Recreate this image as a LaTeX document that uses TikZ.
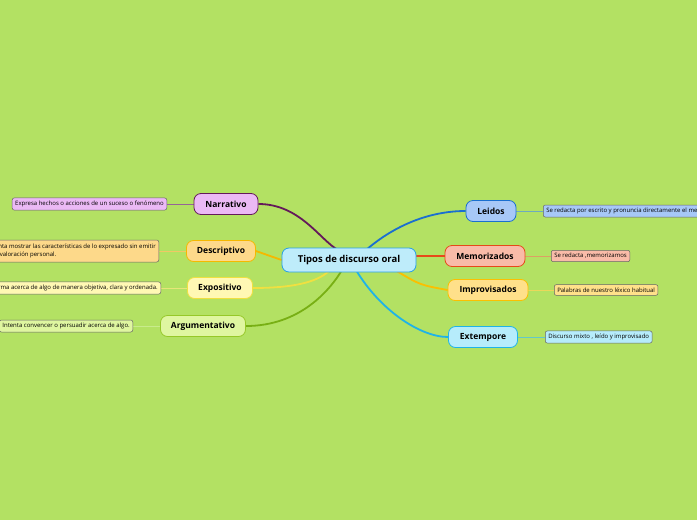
\documentclass[tikz,border=0pt]{standalone}
\usepackage{fontspec}
\setmainfont{Open Sans}
\usetikzlibrary{backgrounds}
\begin{document}
\begin{tikzpicture}[x=1pt,y=-1pt,
  main/.style={rounded corners=7pt,draw,line width=0.8pt,minimum height=21pt,inner xsep=8pt,font=\fontsize{8.5}{10}\selectfont\bfseries},
  leaf/.style={rounded corners=2pt,draw=black!60,line width=0.5pt,inner xsep=3pt,inner ysep=3pt,font=\fontsize{6}{7.5}\selectfont,align=left},
  br/.style={line width=1.8pt},
  tw/.style={line width=0.8pt}]
\useasboundingbox (0,0) rectangle (697,520);
\clip (0,0) rectangle (697,520);
\definecolor{purp}{RGB}{100,25,90}
% center
\node[main,fill={rgb,255:red,190;green,236;blue,250},draw={rgb,255:red,40;green,160;blue,230},minimum width=134pt,minimum height=24pt,font=\fontsize{9.5}{11}\selectfont\bfseries] (c) at (349,260) {Tipos de discurso oral};
% left branches
\node[main,fill={rgb,255:red,235;green,185;blue,245},draw=purp,minimum width=64pt] (n) at (226,204) {Narrativo};
\node[main,fill={rgb,255:red,253;green,217;blue,138},draw={rgb,255:red,245;green,184;blue,0},minimum width=69pt] (d) at (221,251) {Descriptivo};
\node[main,fill={rgb,255:red,255;green,248;blue,180},draw={rgb,255:red,240;green,224;blue,64},minimum width=65pt] (e) at (220,288) {Expositivo};
\node[main,fill={rgb,255:red,223;green,246;blue,160},draw={rgb,255:red,150;green,200;blue,40},minimum width=85pt] (a) at (203,326) {Argumentativo};
% right branches
\node[main,fill={rgb,255:red,167;green,200;blue,247},draw={rgb,255:red,26;green,111;blue,208},minimum width=50pt] (l) at (491,211) {Leidos};
\node[main,fill={rgb,255:red,249;green,187;blue,168},draw={rgb,255:red,230;green,74;blue,25},minimum width=80pt] (m) at (485,256) {Memorizados};
\node[main,fill={rgb,255:red,255;green,224;blue,138},draw={rgb,255:red,251;green,191;blue,0},minimum width=80pt] (i) at (488,290) {Improvisados};
\node[main,fill={rgb,255:red,182;green,236;blue,251},draw={rgb,255:red,31;green,179;blue,232},minimum width=69pt] (x) at (483,337) {Extempore};
% leaves
\node[leaf,fill={rgb,255:red,235;green,185;blue,245},anchor=east] (ln) at (167,204) {Expresa hechos o acciones de un suceso o fenómeno};
\node[leaf,fill={rgb,255:red,253;green,217;blue,138},anchor=east,minimum height=22pt] (ld) at (159,251) {Intenta mostrar las características de lo expresado sin emitir\\ una valoración personal.};
\node[leaf,fill={rgb,255:red,255;green,248;blue,180},anchor=east] (le) at (161,288) {Informa acerca de algo de manera objetiva, clara y ordenada.};
\node[leaf,fill={rgb,255:red,223;green,246;blue,160},anchor=east] (la) at (133,326) {Intenta convencer o persuadir acerca de algo.};
\node[leaf,fill={rgb,255:red,167;green,200;blue,247},anchor=west] (ll) at (543,211) {Se redacta por escrito y pronuncia directamente el mensaje};
\node[leaf,fill={rgb,255:red,249;green,187;blue,168},anchor=west] (lm) at (551,256) {Se redacta ,memorizamos};
\node[leaf,fill={rgb,255:red,255;green,224;blue,138},anchor=west] (li) at (554,290) {Palabras de nuestro léxico habitual};
\node[leaf,fill={rgb,255:red,182;green,236;blue,251},anchor=west] (lx) at (545,337) {Discurso mixto , leído y improvisado};
\begin{scope}[on background layer]
\fill[fill={rgb,255:red,179;green,225;blue,99}] (0,0) rectangle (697,520);
% branch connectors
\draw[br,draw=purp] (n.east) .. controls (300,204) and (320,240) .. (338,250);
\draw[br,draw={rgb,255:red,245;green,184;blue,0}] (d.east) -- (c.west);
\draw[br,draw={rgb,255:red,240;green,224;blue,64}] (e.east) .. controls (300,288) and (320,280) .. (330,270);
\draw[br,draw={rgb,255:red,120;green,175;blue,20}] (a.east) .. controls (300,326) and (330,290) .. (342,270);
\draw[br,draw={rgb,255:red,26;green,111;blue,208}] (366,250) .. controls (395,225) and (430,211) .. (l.west);
\draw[br,draw={rgb,255:red,230;green,74;blue,25}] (410,256) -- (m.west);
\draw[br,draw={rgb,255:red,251;green,191;blue,0}] (395,270) .. controls (420,285) .. (i.west);
\draw[br,draw={rgb,255:red,31;green,179;blue,232}] (356,270) .. controls (380,310) and (420,337) .. (x.west);
% leaf connectors
\draw[tw,draw={rgb,255:red,150;green,100;blue,150}] (n.west) -- (ln.east);
\draw[tw,draw={rgb,255:red,240;green,200;blue,100}] (d.west) -- (ld.east);
\draw[tw,draw={rgb,255:red,230;green,230;blue,120}] (e.west) -- (le.east);
\draw[tw,draw={rgb,255:red,200;green,235;blue,140}] (a.west) -- (la.east);
\draw[tw,draw={rgb,255:red,110;green,170;blue,190}] (l.east) -- (ll.west);
\draw[tw,draw={rgb,255:red,220;green,160;blue,100}] (m.east) -- (lm.west);
\draw[tw,draw={rgb,255:red,235;green,215;blue,90}] (i.east) -- (li.west);
\draw[tw,draw={rgb,255:red,100;green,200;blue,200}] (x.east) -- (lx.west);
\end{scope}
\end{tikzpicture}
\end{document}
